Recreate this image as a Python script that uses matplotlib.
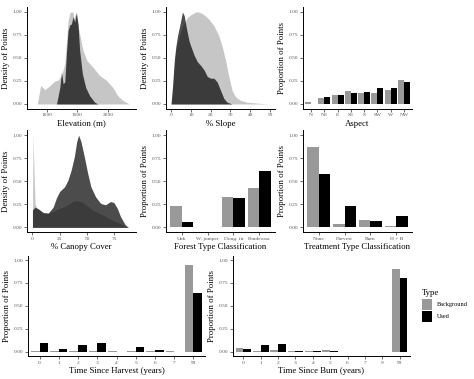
import matplotlib
matplotlib.use("Agg")
import matplotlib.pyplot as plt
import numpy as np

plt.rcParams['font.family'] = ['Liberation Serif', 'DejaVu Serif']

# ---------------- data ----------------
# Elevation (m) scaled densities
elev_bg_x = [849, 903, 973, 1054, 1135, 1189, 1243, 1297, 1351, 1378, 1405, 1432, 1443, 1465, 1486, 1540, 1595, 1660, 1757, 1865, 1973, 2081, 2162, 2243, 2351]
elev_bg_y = [0.0, 0.20, 0.155, 0.20, 0.25, 0.26, 0.31, 0.44, 0.90, 0.99, 1.00, 1.00, 0.92, 0.97, 0.95, 0.76, 0.58, 0.47, 0.40, 0.31, 0.26, 0.18, 0.09, 0.04, 0.0]
elev_us_x = [1162, 1216, 1243, 1270, 1297, 1324, 1351, 1378, 1405, 1432, 1459, 1486, 1513, 1540, 1584, 1638, 1703, 1784, 1838]
elev_us_y = [0.0, 0.18, 0.35, 0.22, 0.24, 0.55, 0.80, 0.86, 0.87, 0.95, 0.89, 1.00, 0.87, 0.58, 0.33, 0.18, 0.09, 0.02, 0.0]

# % Slope scaled densities
slope_bg_x = [0.3, 1.7, 2.5, 3.3, 4.5, 6.0, 8.3, 10.0, 12.5, 14.2, 16.7, 19.2, 21.7, 24.2, 25.8, 27.5, 29.2, 30.8, 32.5, 35.0, 38.3, 43.3, 49.0]
slope_bg_y = [0.0, 0.41, 0.59, 0.66, 0.75, 0.85, 0.94, 0.97, 1.00, 1.00, 0.97, 0.92, 0.85, 0.74, 0.63, 0.48, 0.30, 0.15, 0.08, 0.04, 0.02, 0.01, 0.0]
slope_us_x = [0.0, 0.8, 1.7, 2.5, 3.3, 4.7, 5.8, 6.7, 7.5, 8.3, 9.2, 10.0, 11.7, 13.3, 15.0, 16.7, 18.3, 20.0, 21.7, 23.3, 25.0, 26.7, 28.3, 30.8]
slope_us_y = [0.0, 0.19, 0.48, 0.63, 0.74, 0.88, 1.00, 0.96, 0.86, 0.77, 0.68, 0.63, 0.53, 0.46, 0.42, 0.37, 0.30, 0.28, 0.28, 0.24, 0.15, 0.06, 0.02, 0.0]

# % Canopy cover scaled densities
canopy_bg_x = [0.0, 0.5, 1.2, 2.4, 3.9, 6.9, 9.9, 14.5, 19.0, 23.5, 28.0, 32.5, 37.0, 41.5, 46.0, 50.6, 55.0, 61.0, 67.0, 73.0, 79.0, 83.7, 86.7]
canopy_bg_y = [0.0, 1.00, 0.70, 0.25, 0.21, 0.19, 0.16, 0.155, 0.17, 0.20, 0.22, 0.245, 0.28, 0.29, 0.27, 0.23, 0.19, 0.155, 0.12, 0.08, 0.05, 0.02, 0.0]
canopy_us_x = [0.0, 0.01, 2.4, 5.4, 9.9, 14.5, 19.0, 22.0, 25.0, 29.5, 32.5, 35.5, 38.5, 40.6, 42.4, 44.5, 47.5, 50.6, 53.6, 58.0, 62.6, 67.0, 71.6, 74.6, 77.7, 80.7, 85.0, 88.0]
canopy_us_y = [0.0, 0.19, 0.22, 0.20, 0.16, 0.155, 0.22, 0.32, 0.39, 0.44, 0.51, 0.62, 0.77, 0.93, 1.00, 0.93, 0.77, 0.59, 0.44, 0.33, 0.26, 0.245, 0.28, 0.27, 0.21, 0.12, 0.03, 0.0]

# Aspect proportions
aspect_cats = ["N", "NE", "E", "SE", "S", "SW", "W", "NW"]
aspect_bg = [0.02, 0.065, 0.10, 0.137, 0.122, 0.122, 0.155, 0.263]
aspect_us = [0.0, 0.072, 0.10, 0.12, 0.133, 0.17, 0.176, 0.234]

# Forest type
forest_cats = ["Unk", "W. juniper", "Doug. fir", "Ponderosa"]
forest_bg = [0.23, 0.0, 0.33, 0.43]
forest_us = [0.06, 0.0, 0.32, 0.61]

# Treatment type
treat_cats = ["None", "Harvest", "Burn", "H + B"]
treat_bg = [0.87, 0.033, 0.08, 0.015]
treat_us = [0.576, 0.23, 0.07, 0.127]

# Time since harvest
harv_cats = ["0", "1", "2", "3", "4", "5", "6", "7", "99"]
harv_bg = [0.01, 0.007, 0.01, 0.007, 0.003, 0.01, 0.007, 0.005, 0.95]
harv_us = [0.10, 0.025, 0.073, 0.10, 0.0, 0.047, 0.018, 0.0, 0.64]

# Time since burn
burn_cats = ["0", "1", "2", "3", "4", "5", "6", "7", "9", "99"]
burn_bg = [0.036, 0.007, 0.014, 0.004, 0.011, 0.014, 0.002, 0.001, 0.001, 0.90]
burn_us = [0.029, 0.072, 0.087, 0.004, 0.010, 0.005, 0.002, 0.0, 0.0, 0.80]

legend_title = "Type"
legend_labels = ["Background", "Used"]

# ---------------- styling ----------------
W, H = 474, 379
BG_DENS = "#c6c6c6"
BAR_GRAY = "#999999"
TICK_COL = "#555555"
TICK_FS = 3.9
LAB_FS = 6.3

fig = plt.figure(figsize=(W / 100, H / 100), dpi=100)


def ax_at(left, top, width, bottom):
    return fig.add_axes([left / W, 1 - bottom / H, width / W, (bottom - top) / H])


def style(ax, xlabel, ylabel):
    for s in ["top", "right"]:
        ax.spines[s].set_visible(False)
    for s in ["left", "bottom"]:
        ax.spines[s].set_linewidth(0.7)
        ax.spines[s].set_color("black")
    ax.tick_params(axis="both", length=2, width=0.5, colors="#333333",
                   labelsize=TICK_FS, labelcolor=TICK_COL, pad=1.5)
    ax.set_ylim(-0.05, 1.05)
    ax.set_yticks([0, 0.25, 0.5, 0.75, 1.0])
    ax.set_yticklabels(["0.00", "0.25", "0.50", "0.75", "1.00"])
    ax.set_xlabel(xlabel, fontsize=LAB_FS, labelpad=1.5)
    ax.set_ylabel(ylabel, fontsize=LAB_FS, labelpad=2)


def density(ax, bx, by, ux, uy, xlim, ticks, xlabel):
    ax.fill_between(bx, 0, by, color=BG_DENS, linewidth=0)
    ax.fill_between(ux, 0, uy, color="black", alpha=0.7, linewidth=0)
    ax.set_xlim(*xlim)
    ax.set_xticks(ticks)
    style(ax, xlabel, "Density of Points")


def bars(ax, cats, bg, us, xlabel):
    x = np.arange(len(cats))
    ax.bar(x - 0.225, bg, width=0.45, color=BAR_GRAY, linewidth=0)
    ax.bar(x + 0.225, us, width=0.45, color="black", linewidth=0)
    ax.set_xlim(-0.6, len(cats) - 0.4)
    ax.set_xticks(x)
    ax.set_xticklabels(cats)
    style(ax, xlabel, "Proportion of Points")


rows = [(7.4, 108.6), (130.5, 232.0), (255.5, 356.3)]
cols = [27, 166, 303]
cw = 109

a = ax_at(cols[0], rows[0][0], cw, rows[0][1])
density(a, elev_bg_x, elev_bg_y, elev_us_x, elev_us_y, (680, 2460), [1000, 1500, 2000], "Elevation (m)")

a = ax_at(cols[1], rows[0][0], cw, rows[0][1])
density(a, slope_bg_x, slope_bg_y, slope_us_x, slope_us_y, (-2.5, 52.5), [0, 10, 20, 30, 40, 50], "% Slope")

a = ax_at(cols[2], rows[0][0], cw, rows[0][1])
bars(a, aspect_cats, aspect_bg, aspect_us, "Aspect")

a = ax_at(cols[0], rows[1][0], cw, rows[1][1])
density(a, canopy_bg_x, canopy_bg_y, canopy_us_x, canopy_us_y, (-5, 95), [0, 25, 50, 75], "% Canopy Cover")

a = ax_at(cols[1], rows[1][0], cw, rows[1][1])
bars(a, forest_cats, forest_bg, forest_us, "Forest Type Classification")

a = ax_at(cols[2], rows[1][0], cw, rows[1][1])
bars(a, treat_cats, treat_bg, treat_us, "Treatment Type Classification")

a = ax_at(28, rows[2][0], 177, rows[2][1])
bars(a, harv_cats, harv_bg, harv_us, "Time Since Harvest (years)")

a = ax_at(233, rows[2][0], 177, rows[2][1])
bars(a, burn_cats, burn_bg, burn_us, "Time Since Burn (years)")

# legend
fig.text(422 / W, 1 - 293 / H, legend_title, fontsize=LAB_FS, va="center", ha="left")
for i, (lab, col) in enumerate(zip(legend_labels, [BAR_GRAY, "black"])):
    top = 299 + i * 12
    fig.patches.append(plt.Rectangle((422 / W, 1 - (top + 11) / H), 10 / W, 11 / H,
                                     transform=fig.transFigure, color=col, linewidth=0))
    fig.text(437 / W, 1 - (top + 5.5) / H, lab, fontsize=TICK_FS + 0.6, va="center", ha="left")

fig.savefig("out.png", dpi=100)
